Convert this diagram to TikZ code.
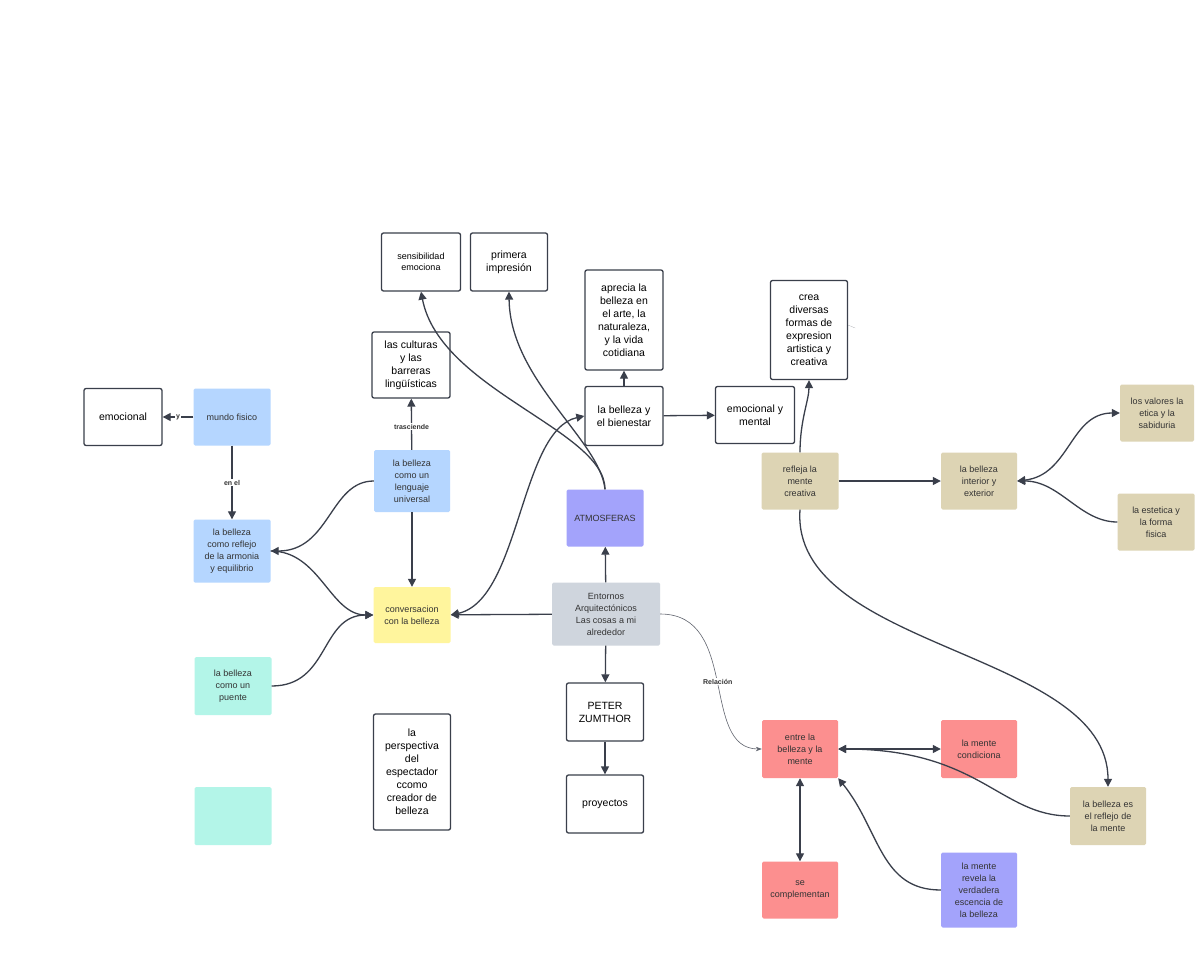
\documentclass[tikz,border=0pt]{standalone}
\usepackage{fontspec}
\setmainfont{Liberation Sans}
\usetikzlibrary{arrows.meta}
\definecolor{cblue}{HTML}{B5D6FF}
\definecolor{ctan}{HTML}{DDD4B4}
\definecolor{cpur}{HTML}{A3A3FB}
\definecolor{cyel}{HTML}{FFF59D}
\definecolor{cgray}{HTML}{CFD5DD}
\definecolor{cmint}{HTML}{B3F5E8}
\definecolor{cred}{HTML}{FC8F8F}
\definecolor{cline}{HTML}{3A3F4B}
\tikzset{
 wbox/.style={draw=cline,line width=1.3pt,rounded corners=2pt,fill=white,align=center,inner sep=2pt,font=\fontsize{10.5}{13}\selectfont},
 fbox/.style={rounded corners=1.5pt,align=center,inner sep=2pt,font=\fontsize{9}{12}\selectfont,text=black!80},
 con/.style={draw=cline,line width=1.3pt,-{Triangle[length=8pt,width=8pt]}},
 bicon/.style={draw=cline,line width=1.3pt,{Triangle[length=8pt,width=8pt]}-{Triangle[length=8pt,width=8pt]}},
 lab/.style={fill=white,font=\fontsize{7}{8}\selectfont\bfseries,inner sep=1pt,text=black!80}
}
\begin{document}
\begin{tikzpicture}[x=1pt,y=-1pt]
\useasboundingbox (0,0) rectangle (1200,960);
\fill[white] (0,0) rectangle (1200,960);
\node[wbox,minimum width=79pt,minimum height=58pt,font=\fontsize{9}{11}\selectfont] (sens) at (421,262) {sensibilidad\\emociona};
\node[wbox,minimum width=77pt,minimum height=58pt] (prim) at (509,262) {primera\\impresión};
\node[wbox,minimum width=78pt,minimum height=100pt] (apre) at (624,320) {aprecia la\\belleza en\\el arte, la\\naturaleza,\\y la vida\\cotidiana};
\node[wbox,minimum width=77pt,minimum height=99pt] (crea) at (809,330) {crea\\diversas\\formas de\\expresion\\artistica y\\creativa};
\node[wbox,minimum width=78pt,minimum height=66pt] (cult) at (411,365) {las culturas\\y las\\barreras\\lingüísticas};
\node[wbox,minimum width=78pt,minimum height=57pt] (emo) at (123,417) {emocional};
\node[fbox,fill=cblue,minimum width=77pt,minimum height=57pt] (mundo) at (232,417) {mundo fisico};
\node[wbox,minimum width=78pt,minimum height=59pt] (bien) at (624,416) {la belleza y\\el bienestar};
\node[wbox,minimum width=79pt,minimum height=57pt] (emom) at (755,415) {emocional y\\mental};
\node[fbox,fill=ctan,minimum width=74pt,minimum height=57pt] (valo) at (1157,413) {los valores la\\etica y la\\sabiduria};
\node[fbox,fill=cblue,minimum width=76pt,minimum height=62pt] (leng) at (412,481) {la belleza\\como un\\lenguaje\\universal};
\node[fbox,fill=ctan,minimum width=77pt,minimum height=57pt] (refl) at (800,481) {refleja la\\mente\\creativa};
\node[fbox,fill=ctan,minimum width=76pt,minimum height=57pt] (inte) at (979,481) {la belleza\\interior y\\exterior};
\node[fbox,fill=ctan,minimum width=77pt,minimum height=57pt] (este) at (1156,522) {la estetica y\\la forma\\fisica};
\node[fbox,fill=cpur,minimum width=77pt,minimum height=57pt] (atmo) at (605,518) {ATMOSFERAS};
\node[fbox,fill=cblue,minimum width=77pt,minimum height=63pt] (armo) at (232,551) {la belleza\\como reflejo\\de la armonia\\y equilibrio};
\node[fbox,fill=cyel,minimum width=77pt,minimum height=56pt] (conv) at (412,615) {conversacion\\con la belleza};
\node[fbox,fill=cgray,minimum width=108pt,minimum height=63pt] (ento) at (606,614) {Entornos\\Arquitectónicos\\Las cosas a mi\\alrededor};
\node[fbox,fill=cmint,minimum width=77pt,minimum height=58pt] (puen) at (233,686) {la belleza\\como un\\puente};
\node[wbox,minimum width=77pt,minimum height=58pt] (pete) at (605,712) {PETER\\ZUMTHOR};
\node[wbox,minimum width=77pt,minimum height=116pt] (pers) at (412,772) {la\\perspectiva\\del\\espectador\\ccomo\\creador de\\belleza};
\node[fbox,fill=cred,minimum width=76pt,minimum height=58pt] (entr) at (800,749) {entre la\\belleza y la\\mente};
\node[fbox,fill=cred,minimum width=76pt,minimum height=58pt] (cond) at (979,749) {la mente\\condiciona};
\node[wbox,minimum width=77pt,minimum height=58pt] (proy) at (605,804) {proyectos};
\node[fbox,fill=cmint,minimum width=77pt,minimum height=58pt] (empt) at (233,816) {};
\node[fbox,fill=ctan,minimum width=76pt,minimum height=58pt] (rmen) at (1108,816) {la belleza es\\el reflejo de\\la mente};
\node[fbox,fill=cred,minimum width=76pt,minimum height=57pt] (comp) at (800,890) {se\\complementan};
\node[fbox,fill=cpur,minimum width=76pt,minimum height=75pt] (reve) at (979,890) {la mente\\revela la\\verdadera\\escencia de\\la belleza};
\coordinate (tipc) at (855,328);
\fill[cline] (crea.east) ++(0,-5) -- (tipc) -- ([yshift=5pt]crea.east) -- cycle;

\draw[con] (mundo) -- node[lab]{y} (emo);
\draw[con] (mundo) -- node[lab]{en el} (armo);
\draw[con] (leng) -- node[lab,pos=0.45]{trasciende} (cult);
\draw[con] (leng) -- (conv);
\draw[con] (leng.west) .. controls (330,481) and (330,551) .. (armo.east);
\draw[con] (armo.east) .. controls (320,551) and (330,615) .. (conv.west);
\draw[con] (puen.east) .. controls (330,686) and (320,615) .. (conv.west);
\draw[con] (ento) -- (conv);
\draw[bicon] (conv.east) .. controls (520,600) and (520,430) .. (bien.west);
\draw[con] (atmo.north) .. controls (605,430) and (440,390) .. (sens.south);
\draw[con] (atmo.north) .. controls (600,440) and (510,380) .. (prim.south);
\draw[con] (ento) -- (atmo);
\draw[con] (bien) -- (apre);
\draw[con] (bien) -- (emom);
\draw[con] (refl.north) .. controls (800,420) and (809,400) .. (crea.south);
\draw[con] (refl) -- (inte);
\draw[bicon] (inte.east) .. controls (1070,475) and (1070,413) .. (valo.west);
\draw[con] (este.west) .. controls (1080,522) and (1060,481) .. (inte.east);
\draw[con] (refl.south) .. controls (790,650) and (1108,650) .. (rmen.north);
\draw[con] (ento) -- (pete);
\draw[con] (pete) -- (proy);
\draw[draw=cline!80,line width=0.6pt,-{Stealth[length=6pt]}] (ento.east) .. controls (740,614) and (700,749) .. node[lab,pos=0.5]{Relación} (entr.west);
\draw[bicon] (entr) -- (cond);
\draw[con] (rmen.west) .. controls (1000,816) and (980,749) .. (entr.east);
\draw[bicon] (entr) -- (comp);
\draw[con] (reve.west) .. controls (880,890) and (880,830) .. (entr.south east);
\end{tikzpicture}
\end{document}
